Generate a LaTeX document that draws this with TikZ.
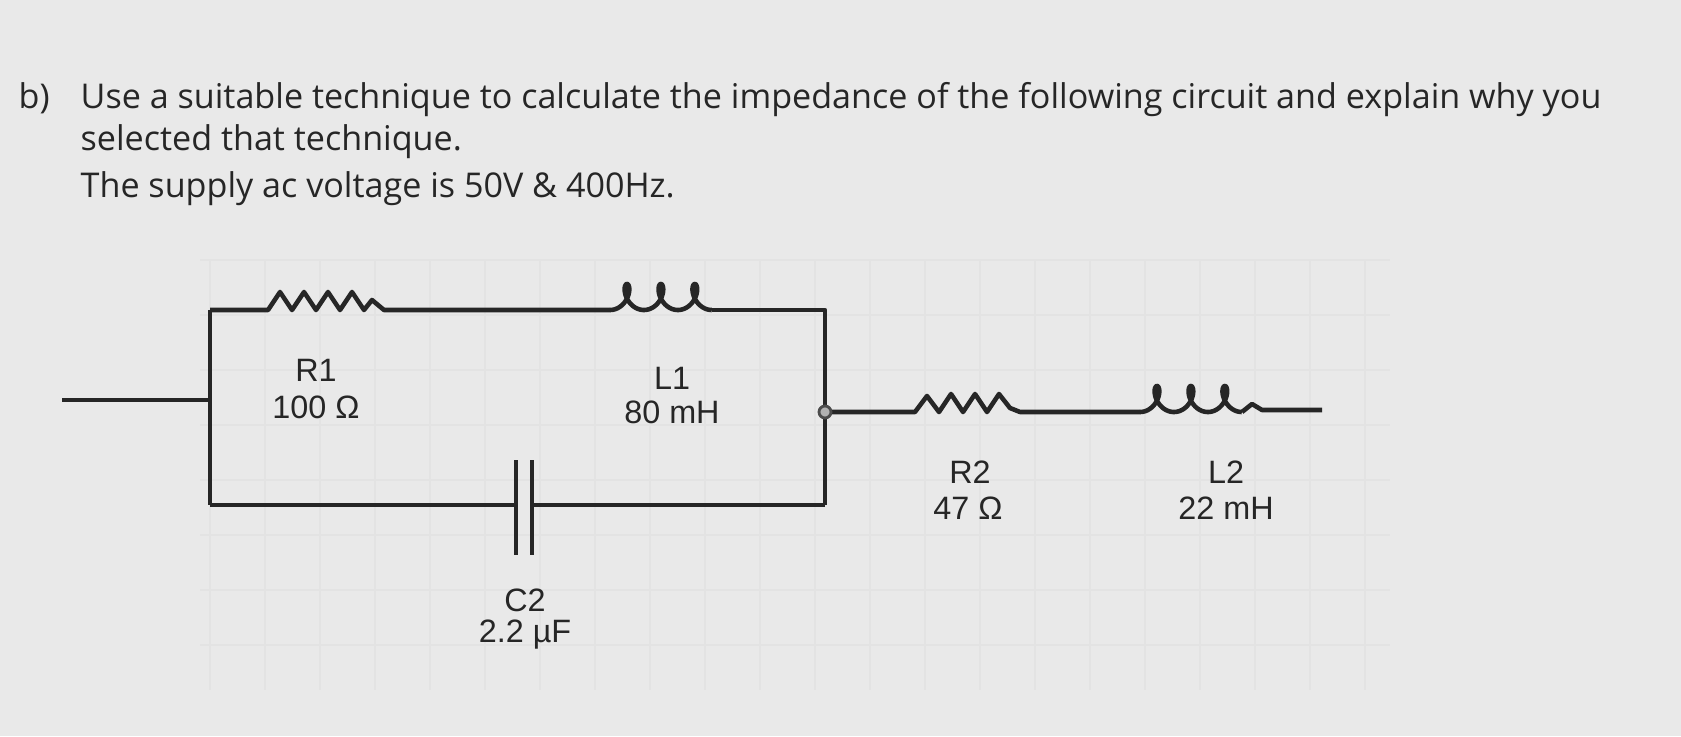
\documentclass[tikz,border=0pt]{standalone}
\usepackage{fontspec}
\setmainfont{Open Sans}
\newfontfamily\lab{Liberation Sans}
\begin{document}
\begin{tikzpicture}[x=0.01cm,y=-0.01cm,
  wire/.style={line width=1.3pt,draw=black!85,line join=round},
  lbl/.style={font=\lab\fontsize{9.2}{10}\selectfont,text=black!85,inner sep=0pt},
  qtext/.style={font=\fontsize{9.7}{11}\selectfont,text=black!85,anchor=base west,inner sep=0pt}]
\fill[gray!17] (0,0) rectangle (1681,736);
\useasboundingbox (0,0) rectangle (1681,736);
% faint grid
\foreach \x in {210,265,320,375,430,485,540,595,650,705,760,815,870,925,980,1035,1090,1145,1200,1255,1310,1365}
  \draw[gray!22,line width=0.4pt] (\x,260) -- (\x,690);
\foreach \y in {260,315,370,425,480,535,590,645}
  \draw[gray!22,line width=0.4pt] (200,\y) -- (1390,\y);
% text
\node[qtext] (b) at (18,108) {b)};
\node[qtext] (t1) at (80,108) {Use a suitable technique to calculate the impedance of the following circuit and explain why you};
\node[qtext] (t2) at (80,150) {selected that technique.};
\node[qtext] (t3) at (80,197) {The supply ac voltage is 50V \& 400Hz.};
% coordinates
\coordinate (in) at (62,400);
\coordinate (lt) at (210,310);
\coordinate (lm) at (210,400);
\coordinate (lb) at (210,505);
\coordinate (rt) at (825,310);
\coordinate (rb) at (825,505);
\coordinate (n) at (825,412);
\draw[wire] (in) -- (lm);
\draw[wire] (lt) -- (lb);
% top branch
\draw[wire] (lt) -- (268,310) -- (280,292) -- (292,310) -- (304,292) -- (316,310) -- (328,292) -- (340,310) -- (352,292) -- (364,310) -- (372,300) -- (384,310) -- (610,310);
\draw[wire] plot[domain=0:18.85,samples=180,smooth] ({610+5.4*(\x+1.7*sin(\x r))},{310-13*(1-cos(\x r))});
\draw[wire] (712,310) -- (rt) -- (rb);
% bottom branch
\draw[wire] (lb) -- (516,505);
\draw[wire] (516,460) -- (516,555);
\draw[wire] (532,460) -- (532,555);
\draw[wire] (532,505) -- (rb);
% series
\draw[wire] (n) -- (915,412) -- (927,396) -- (939,412) -- (951,394) -- (963,412) -- (975,394) -- (987,412) -- (999,394) -- (1010,408) -- (1020,412) -- (1140,412);
\draw[wire] plot[domain=0:18.85,samples=180,smooth] ({1140+5.4*(\x+1.7*sin(\x r))},{412-13*(1-cos(\x r))});
\draw[wire] (1242,412) -- (1252,404) -- (1262,410) -- (1322,410);
\fill[gray!60] (n) circle (6);
\draw[black!70,line width=0.8pt] (n) circle (6);
% labels
\node[lbl] (r1) at (316,370) {R1};
\node[lbl] (r1v) at (316,407) {100 Ω};
\node[lbl] (l1) at (672,378) {L1};
\node[lbl] (l1v) at (672,412) {80 mH};
\node[lbl] (r2) at (970,472) {R2};
\node[lbl] (r2v) at (968,508) {47 Ω};
\node[lbl] (l2) at (1226,472) {L2};
\node[lbl] (l2v) at (1226,508) {22 mH};
\node[lbl] (c2) at (525,600) {C2};
\node[lbl] (c2v) at (525,635) {2.2 µF};
\end{tikzpicture}
\end{document}
